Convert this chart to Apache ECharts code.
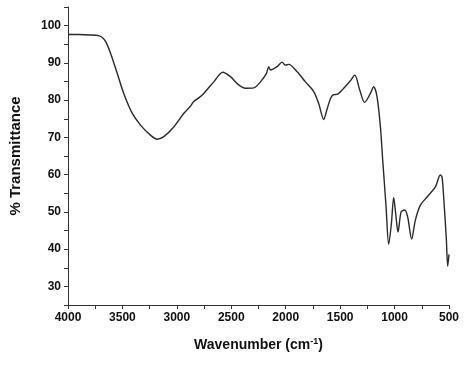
<!DOCTYPE html>
<html>
<head>
<meta charset="utf-8">
<script src="https://cdn.jsdelivr.net/npm/echarts@6/dist/echarts.min.js"></script>
<style>
  html, body { margin: 0; padding: 0; background: #fff; }
  #ir-spectrum { width: 474px; height: 365px; }
</style>
</head>
<body>
<div id="ir-spectrum"></div>
<script>
// wavenumber (cm-1) and % transmittance
var wavenumbers = [4000, 3900, 3800, 3720, 3680, 3650, 3609, 3548, 3488, 3410, 3334, 3242, 3181, 3120, 3028, 2937, 2875, 2845, 2799, 2753, 2661, 2578, 2508, 2432, 2370, 2294, 2232, 2177, 2156, 2140, 2079, 2033, 2003, 1972, 1895, 1819, 1743, 1697, 1651, 1620, 1590, 1565, 1522, 1467, 1406, 1366, 1320, 1275, 1222, 1192, 1161, 1130, 1109, 1100, 1078, 1054, 1029, 1008, 990, 968, 940, 907, 880, 843, 809, 763, 702, 625, 580, 564, 543, 524, 512, 500];
var transmittance = [97.6, 97.6, 97.5, 97.3, 96.7, 95.5, 92.6, 87.2, 81.8, 76.5, 73.3, 70.6, 69.5, 70.2, 72.8, 76.4, 78.4, 79.6, 80.6, 81.8, 84.9, 87.5, 86.3, 84.1, 83.2, 83.3, 84.9, 87.2, 89.0, 88.1, 89.0, 90.2, 89.4, 89.6, 87.6, 84.9, 82.3, 79.1, 74.8, 77.6, 80.3, 81.4, 81.6, 83.2, 85.2, 86.7, 82.7, 79.4, 81.8, 83.6, 80.9, 72.8, 63.9, 60.3, 51.3, 41.3, 46.9, 53.9, 49.6, 44.6, 50.0, 50.5, 48.7, 42.7, 47.8, 51.8, 54.0, 56.7, 59.9, 59.4, 51.3, 42.4, 35.4, 38.6];

var chart = echarts.init(document.getElementById('ir-spectrum'));

var points = wavenumbers.map(function (w, i) { return [w, transmittance[i]]; });

var labelStyle = { color: '#111', fontFamily: 'Liberation Sans', fontWeight: 'bold', fontSize: 12 };

var option = {
  animation: false,
  backgroundColor: '#fff',
  grid: { left: 67, right: 25, top: 7, bottom: 60 },
  xAxis: {
    type: 'value',
    inverse: true,
    min: 500,
    max: 4000,
    interval: 250,
    name: '{a|Wavenumber (cm}{b|-1}{a|)}',
    nameLocation: 'middle',
    nameGap: 32,
    nameTextStyle: {
      rich: {
        a: { fontFamily: 'Liberation Sans', fontWeight: 'bold', fontSize: 14, color: '#111' },
        b: { fontFamily: 'Liberation Sans', fontWeight: 'bold', fontSize: 9, color: '#111', padding: [0, 0, 8, 0] }
      }
    },
    axisLine: { lineStyle: { color: '#333', width: 1 } },
    axisTick: { length: 4, lineStyle: { color: '#333' } },
    axisLabel: Object.assign({ margin: 7, formatter: function (v) { return v % 500 === 0 ? v : ''; } }, labelStyle),
    splitLine: { show: false }
  },
  yAxis: {
    type: 'value',
    min: 25,
    max: 105,
    interval: 5,
    name: '% Transmittance',
    nameLocation: 'middle',
    nameGap: 45,
    nameTextStyle: { fontFamily: 'Liberation Sans', fontWeight: 'bold', fontSize: 15, color: '#111' },
    axisLine: { show: true, lineStyle: { color: '#333', width: 1 } },
    axisTick: { show: true, length: 4, lineStyle: { color: '#333' } },
    axisLabel: Object.assign({ margin: 7, formatter: function (v) { return v % 10 === 0 ? v : ''; } }, labelStyle),
    splitLine: { show: false }
  },
  series: [{
    type: 'line',
    data: points,
    smooth: 0.3,
    showSymbol: false,
    lineStyle: { color: '#2a2a2a', width: 1.4 }
  }]
};

chart.setOption(option);
</script>
</body>
</html>
